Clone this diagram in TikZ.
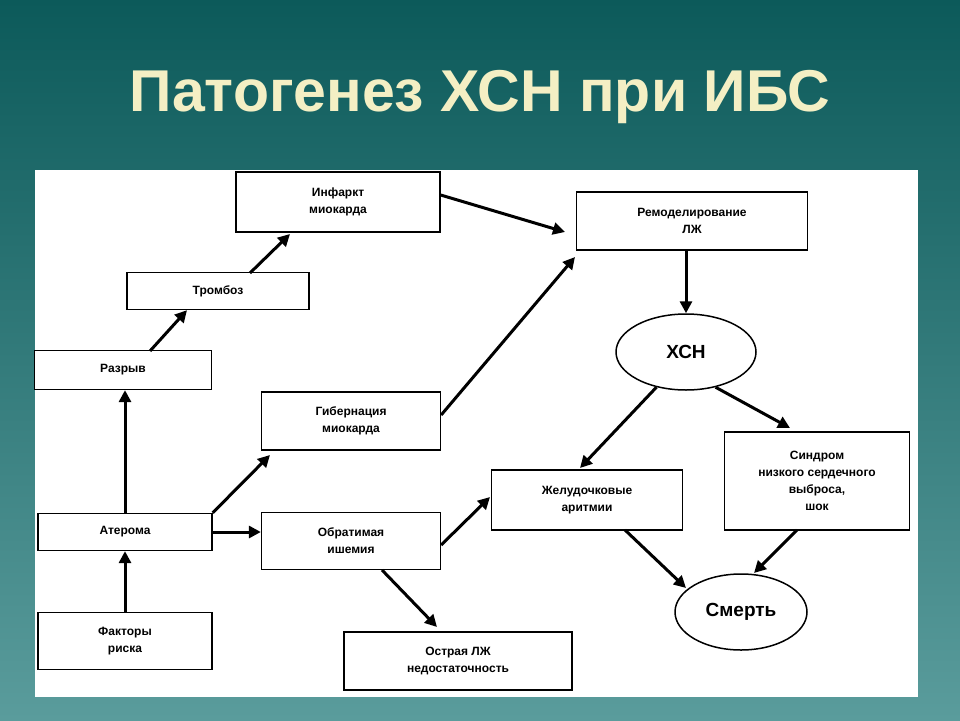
\documentclass[tikz,border=0pt]{standalone}
\usepackage{fontspec}
\setmainfont{Liberation Sans}
\usetikzlibrary{shapes.geometric,arrows.meta}
\definecolor{bgtop}{HTML}{0C5A5A}
\definecolor{bgbot}{HTML}{5A9C9C}
\definecolor{ttl}{HTML}{F4EFC4}
\begin{document}
\begin{tikzpicture}[x=1pt,y=-1pt,
  bx/.style={draw=black,line width=1.3pt,fill=white,align=center,font=\bfseries\fontsize{12}{17}\selectfont,inner sep=0pt},
  el/.style={draw=black,line width=1.5pt,ellipse,fill=white,font=\bfseries\fontsize{19}{22}\selectfont,inner sep=0pt},
  ar/.style={line width=3pt,-{Triangle[length=12pt,width=12pt]}}]
\shade[top color=bgtop,bottom color=bgbot] (0,0) rectangle (960,720);
\useasboundingbox (0,0) rectangle (960,720);
\node[font=\bfseries\fontsize{59}{64}\selectfont,text=ttl] (title) at (480,97) {Патогенез ХСН при ИБС};
\fill[white] (35,170) rectangle (918,697);
\node[bx,minimum width=204,minimum height=60] (inf) at (338,202) {Инфаркт\\миокарда};
\node[bx,minimum width=231,minimum height=58] (rem) at (692,221) {Ремоделирование\\ЛЖ};
\node[bx,minimum width=182,minimum height=37] (trom) at (218,291) {Тромбоз};
\node[bx,minimum width=177,minimum height=39] (raz) at (123,370) {Разрыв};
\node[el,minimum width=140,minimum height=76] (xsn) at (686,352) {ХСН};
\node[bx,minimum width=179,minimum height=58] (gib) at (351,421) {Гибернация\\миокарда};
\node[bx,minimum width=185,minimum height=98] (sin) at (817,481) {Синдром\\низкого сердечного\\выброса,\\шок};
\node[bx,minimum width=191,minimum height=60] (zhel) at (587,500) {Желудочковые\\аритмии};
\node[bx,minimum width=174,minimum height=37] (ate) at (125,532) {Атерома};
\node[bx,minimum width=179,minimum height=57] (obr) at (351,541) {Обратимая\\ишемия};
\node[el,minimum width=132,minimum height=76] (sme) at (741,612) {Смерть};
\node[bx,minimum width=174,minimum height=57] (fak) at (125,641) {Факторы\\риска};
\node[bx,minimum width=228,minimum height=58] (ost) at (458,661) {Острая ЛЖ\\недостаточность};
\draw[ar] (fak.north) -- (ate.south);
\draw[ar] (ate.north) -- (raz.south-|ate.north);
\draw[ar] (150,351) -- (trom.south-|187,0);
\draw[ar] (250,273) -- (290,234);
\draw[ar] (inf.east|-0,195) -- (565,232);
\draw[ar] (gib.east|-0,415) -- (575,257);
\draw[ar] (ate.north east) -- (270,455);
\draw[ar] (ate.east) -- (obr.west|-ate.east);
\draw[ar] (obr.east|-0,545) -- (490,497);
\draw[ar] (382,570) -- (437,627);
\draw[ar] (rem.south-|xsn) -- (xsn.north);
\draw[ar] (xsn.230) -- (580,468);
\draw[ar] (xsn.310) -- (790,428);
\draw[ar] (625,530) -- (686,588);
\draw[ar] (797,530) -- (754,573);
\end{tikzpicture}
\end{document}
